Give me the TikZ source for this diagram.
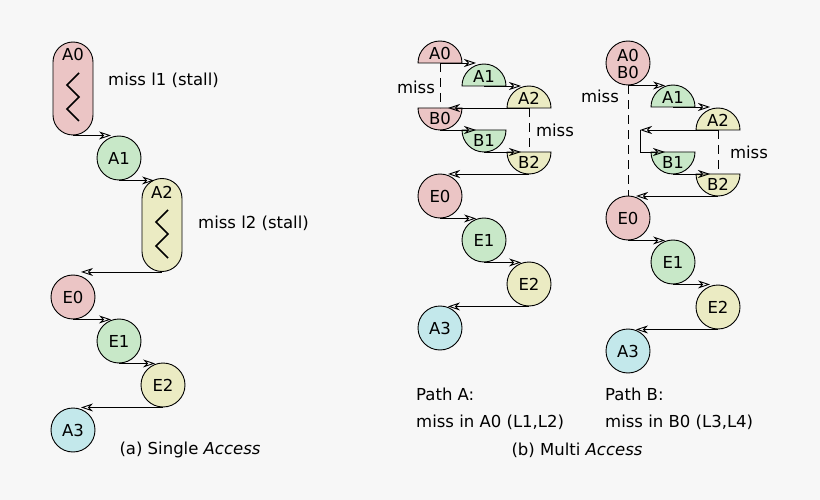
\documentclass[tikz,border=0pt]{standalone}
\usepackage{fontspec}
\setmainfont{DejaVu Sans}
\usetikzlibrary{arrows.meta}
\definecolor{cR}{HTML}{EBC5C5}
\definecolor{cG}{HTML}{C8E8C8}
\definecolor{cY}{HTML}{EBEBC3}
\definecolor{cC}{HTML}{C3E8EB}
\definecolor{bg}{HTML}{F7F7F7}
\newcommand{\fs}{\fontsize{16.5}{17}\selectfont}
\tikzset{
 circ/.style={circle,draw,line width=0.9pt,minimum size=44pt,inner sep=0pt,font=\fs},
 caps/.style={draw,line width=0.9pt,minimum width=40pt,minimum height=93pt,rounded corners=20pt},
 arr/.style={line width=0.9pt,-{Stealth[open,length=12pt,width=8pt]},shorten >=8pt},
 dsh/.style={line width=0.9pt,dash pattern=on 9pt off 6pt},
 lbl/.style={font=\fs,inner sep=0pt},
 zig/.style={line width=1.6pt}
}
% half circle: name, x, y(flat), colour, text, up(1)/down(-1)
\newcommand{\halfc}[6]{%
 \filldraw[fill=#4,line width=0.9pt] (#2-22,#3) arc[start angle=180,end angle={180-#6*180},radius=22] -- cycle;
 \node[lbl] (#1) at (#2,#3+#6*10) {#5};
 \coordinate (#1-t) at (#2,#3+#6*22);
 \coordinate (#1-f) at (#2,#3);
}
\begin{document}
\begin{tikzpicture}[x=1pt,y=1pt]
\useasboundingbox[fill=bg] (0,0) rectangle (820,-500);
% ---------- (a) ----------
\node[caps,fill=cR] (a0) at (73,-88.5) {};
\node[lbl] at (73,-54) {A0};
\draw[zig] (79,-73)--(67,-85)--(79,-97)--(67,-109)--(79,-121);
\node[circ,fill=cG] (a1) at (119,-158) {A1};
\node[caps,fill=cY] (a2) at (162,-225) {};
\node[lbl] at (162,-192) {A2};
\draw[zig] (168,-210)--(156,-222)--(168,-234)--(156,-246)--(168,-258);
\node[circ,fill=cR] (e0) at (73,-297) {E0};
\node[circ,fill=cG] (e1) at (119,-341) {E1};
\node[circ,fill=cY] (e2) at (163,-385) {E2};
\node[circ,fill=cC] (a3) at (73,-430) {A3};
\draw[arr] (a0.south) -- (a0.south -| a1.north);
\draw[arr] (a1.south) -- (a1.south -| a2.north);
\draw[arr] (a2.south) -- (a2.south -| e0.north);
\draw[arr] (e0.south) -- (e0.south -| e1.north);
\draw[arr] (e1.south) -- (e1.south -| e2.north);
\draw[arr] (e2.south) -- (e2.south -| a3.north);
\node[lbl,anchor=west] at (108,-80) {miss l1 (stall)};
\node[lbl,anchor=west] at (198,-223) {miss l2 (stall)};
\node[lbl] at (190,-450) {(a) Single \textit{Access}};
% ---------- (b) Path A ----------
\halfc{pA0}{440}{-63}{cR}{A0}{1}
\halfc{pA1}{484}{-86}{cG}{A1}{1}
\halfc{pA2}{529}{-108}{cY}{A2}{1}
\halfc{pB0}{440}{-108}{cR}{B0}{-1}
\halfc{pB1}{484}{-130}{cG}{B1}{-1}
\halfc{pB2}{529}{-152}{cY}{B2}{-1}
\node[circ,fill=cR] (pE0) at (440,-196) {E0};
\node[circ,fill=cG] (pE1) at (484,-240) {E1};
\node[circ,fill=cY] (pE2) at (529,-284) {E2};
\node[circ,fill=cC] (pA3) at (440,-328) {A3};
\draw[arr] (pA0-f) -- (pA0-f -| pA1-t);
\draw[arr] (pA1-f) -- (pA1-f -| pA2-t);
\draw[arr] (pA2-f) -- (pA2-f -| pB0-t);
\draw[arr] (pB0-t) -- (pB0-t -| pB1-f);
\draw[arr] (pB1-t) -- (pB1-t -| pB2-f);
\draw[arr] (pB2-t) -- (pB2-t -| pE0.north);
\draw[arr] (pE0.south) -- (pE0.south -| pE1.north);
\draw[arr] (pE1.south) -- (pE1.south -| pE2.north);
\draw[arr] (pE2.south) -- (pE2.south -| pA3.north);
\draw[dsh] (pA0-f) -- (pB0-f);
\draw[dsh] (pA2-f) -- (pB2-f);
\node[lbl] at (416,-87) {miss};
\node[lbl] at (555,-130) {miss};
% ---------- (b) Path B ----------
\node[circ,fill=cR] (qA0) at (628,-63) {};
\node[lbl] (qA0a) at (628,-55) {A0};
\node[lbl] (qA0b) at (628,-72) {B0};
\halfc{qA1}{673}{-107}{cG}{A1}{1}
\halfc{qA2}{718}{-130}{cY}{A2}{1}
\halfc{qB1}{673}{-152}{cG}{B1}{-1}
\halfc{qB2}{718}{-174}{cY}{B2}{-1}
\node[circ,fill=cR] (qE0) at (628,-218) {E0};
\node[circ,fill=cG] (qE1) at (673,-262) {E1};
\node[circ,fill=cY] (qE2) at (718,-307) {E2};
\node[circ,fill=cC] (qA3) at (628,-351) {A3};
\coordinate (qk) at (640,-130);
\draw[arr] (qA0.south) -- (qA0.south -| qA1-t);
\draw[arr] (qA1-f) -- (qA1-f -| qA2-t);
\draw[line width=0.9pt,-{Stealth[open,length=12pt,width=8pt]}] (qA2-f) -- (qk);
\draw[arr] (qk) -- (qk |- qB1-f) -- (qB1-f);
\draw[arr] (qB1-t) -- (qB1-t -| qB2-f);
\draw[arr] (qB2-t) -- (qB2-t -| qE0.north);
\draw[arr] (qE0.south) -- (qE0.south -| qE1.north);
\draw[arr] (qE1.south) -- (qE1.south -| qE2.north);
\draw[arr] (qE2.south) -- (qE2.south -| qA3.north);
\draw[dsh] (qA0.south) -- (qE0.north);
\draw[dsh] (qA2-f) -- (qB2-f);
\node[lbl] at (600,-96) {miss};
\node[lbl] at (749,-152) {miss};
% captions
\node[lbl,anchor=west] at (416,-394) {Path A:};
\node[lbl,anchor=west] at (416,-422) {miss in A0 (L1,L2)};
\node[lbl,anchor=west] at (605,-394) {Path B:};
\node[lbl,anchor=west] at (605,-422) {miss in B0 (L3,L4)};
\node[lbl] at (577,-450) {(b) Multi \textit{Access}};
\end{tikzpicture}
\end{document}
